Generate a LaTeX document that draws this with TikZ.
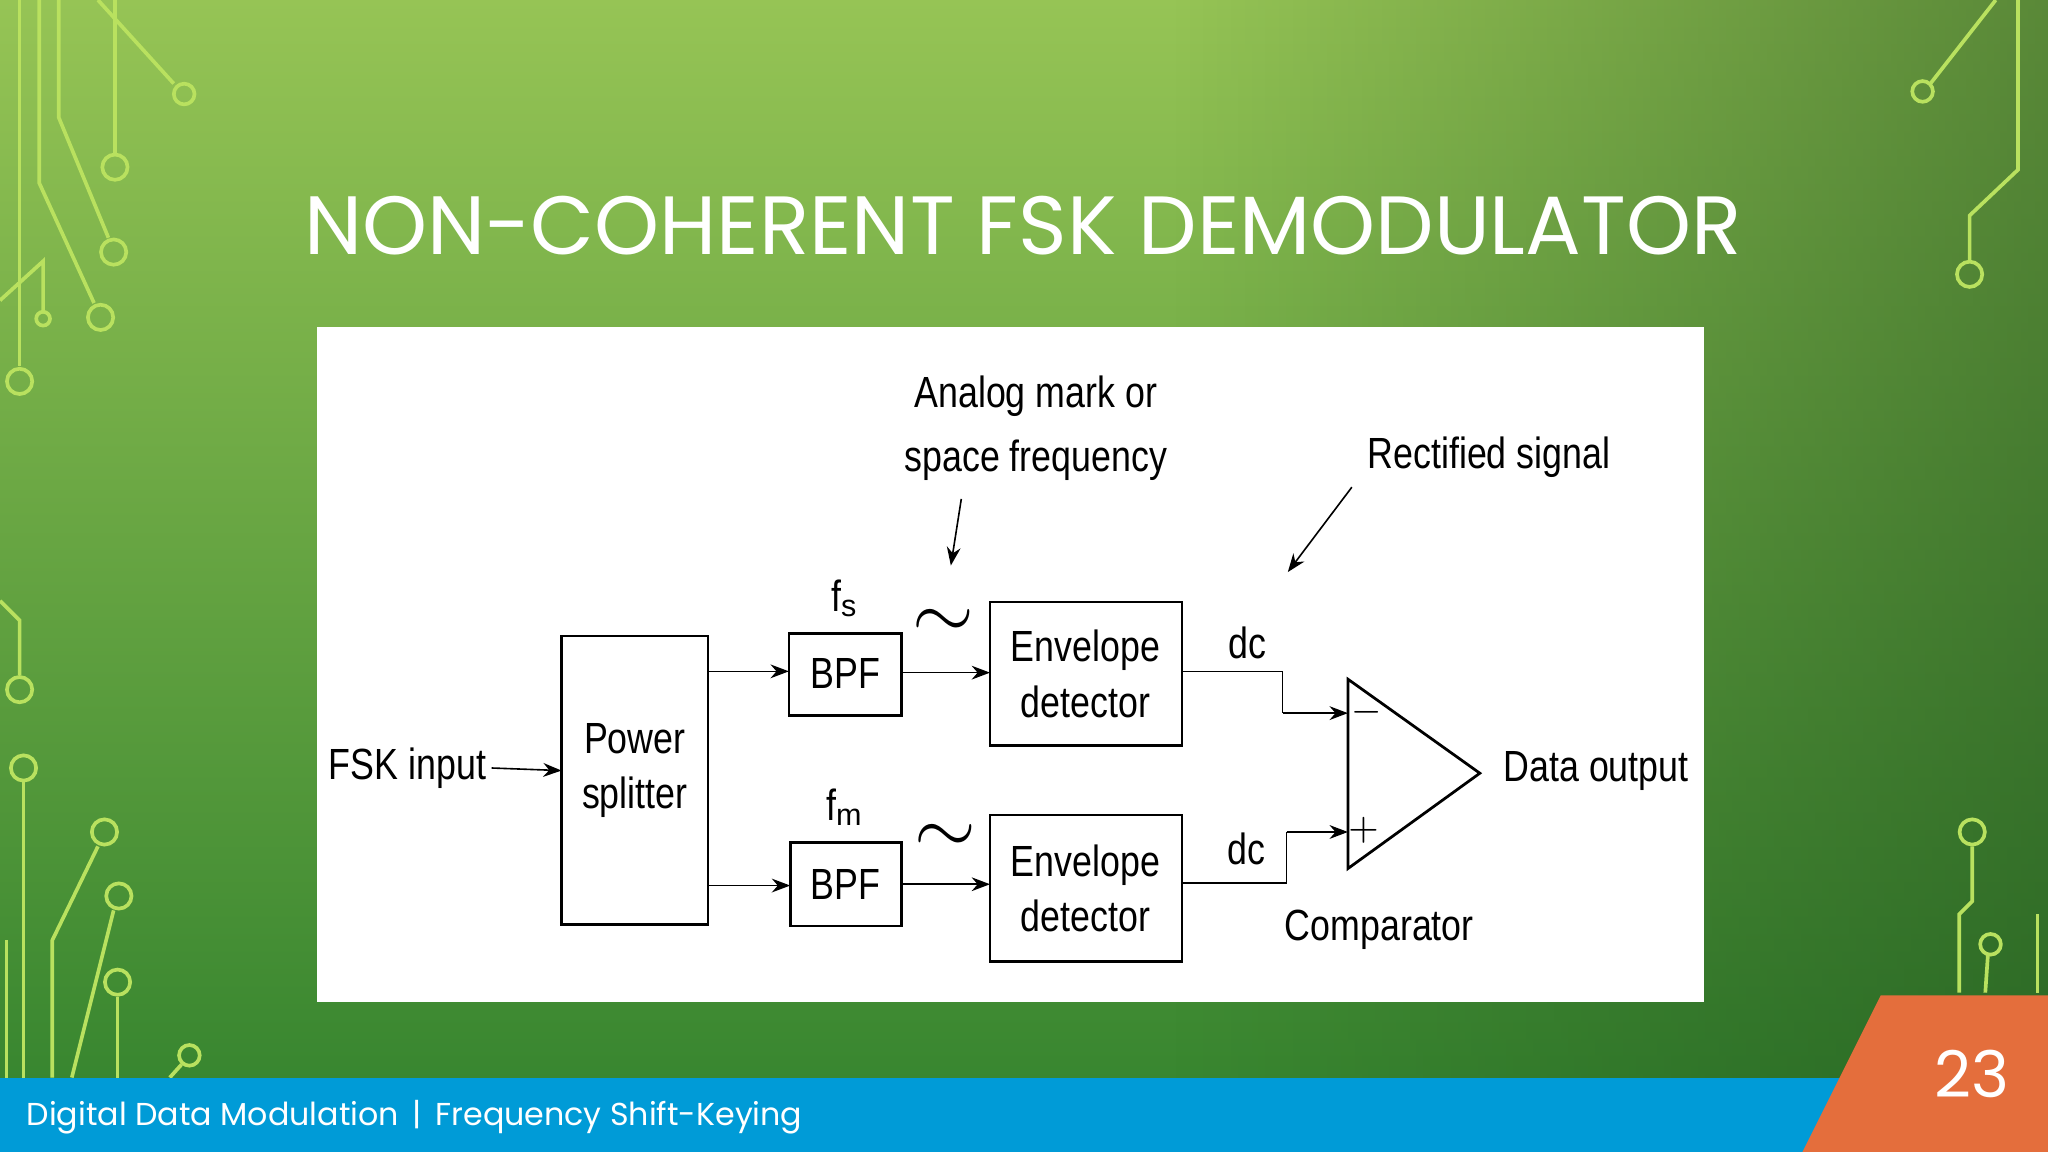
\documentclass[tikz,border=0pt]{standalone}
\usepackage{fontspec}
\setmainfont{Liberation Sans}
\newfontfamily\narrow[FakeStretch=0.82]{Liberation Sans}
\newfontfamily\gothic{Poppins}
\usetikzlibrary{arrows.meta,fadings}
\definecolor{gtop}{RGB}{150,196,85}
\definecolor{gbot}{RGB}{50,130,45}
\definecolor{trace}{RGB}{185,225,95}
\definecolor{barblue}{RGB}{0,155,215}
\definecolor{orng}{RGB}{228,110,60}
\tikzset{
 blk/.style={draw,line width=0.6pt},
 sig/.style={line width=0.35pt,-{Stealth[length=4pt,width=3pt]}},
 wire/.style={line width=0.35pt},
 lbl/.style={font=\narrow\fontsize{9.5}{11}\selectfont,inner sep=1pt},
 tr/.style={trace,line width=0.8pt},
 pad/.style={draw=trace,line width=0.8pt,circle,inner sep=0pt,minimum size=5.5pt},
}
\begin{document}
\begin{tikzpicture}[x=0.01cm,y=-0.01cm]
\useasboundingbox (0,0) rectangle (1568,882);
\shade[top color=gtop,bottom color=gbot] (0,0) rectangle (1568,882);
\fill[gbot!60!black,path fading=west,fill opacity=0.5] (900,0) rectangle (1568,882);
% circuit traces left
\draw[tr] (15,0)--(15,280); \node[pad] at (15,292){};
\draw[tr] (30,0)--(30,140)--(72,232); \node[pad] at (77,243){};
\draw[tr] (45,0)--(45,90)--(83,182); \node[pad] at (87,193){};
\draw[tr] (88,0)--(88,117); \node[pad] at (88,128){};
\draw[tr] (75,0)--(133,64); \node[pad,minimum size=4.5pt] at (141,72){};
\draw[tr] (0,230)--(33,200)--(33,239); \node[pad,minimum size=3pt] at (33,244){};
\draw[tr] (0,460)--(15,475)--(15,517); \node[pad] at (15,528){};
\draw[tr] (18,599)--(18,825); \node[pad] at (18,588){};
\draw[tr] (40,825)--(40,720)--(75,648); \node[pad] at (80,637){};
\draw[tr] (55,825)--(87,697); \node[pad] at (91,686){};
\draw[tr] (90,825)--(90,763); \node[pad] at (90,752){};
\draw[tr] (130,825)--(139,815); \node[pad,minimum size=4.5pt] at (145,808){};
\draw[tr] (5,825)--(5,720);
% right traces
\draw[tr] (1478,64)--(1528,0); \node[pad,minimum size=4.5pt] at (1472,70){};
\draw[tr] (1545,0)--(1545,130)--(1508,165)--(1508,199); \node[pad] at (1508,210){};
\draw[tr] (1500,760)--(1500,700)--(1510,690)--(1510,648); \node[pad] at (1510,637){};
\draw[tr] (1520,760)--(1522,731); \node[pad,minimum size=4.5pt] at (1524,723){};
\draw[tr] (1560,760)--(1560,700);
% title
\node[white,font=\gothic\fontsize{18}{20}\selectfont] at (783,173) {NON-COHERENT FSK DEMODULATOR};
% footer
\fill[barblue] (0,825) rectangle (1420,882);
\fill[orng] (1380,882)--(1440,762)--(1568,762)--(1568,882)--cycle;
\node[white,font=\gothic\fontsize{14}{16}\selectfont] at (1510,822) {23};
\node[white,anchor=west,font=\gothic\fontsize{6.9}{8}\selectfont] at (8,855) {Digital Data Modulation \,|\, Frequency Shift-Keying};
% white panel
\fill[white] (243,250) rectangle (1305,767);
% diagram
\draw[blk] (430,487) rectangle (542,708);
\node[lbl,align=center] (psl) at (486,590) {Power\\[1pt]splitter};
\coordinate (psin) at (430,590);
\coordinate (pso1) at (542,514);
\coordinate (pso2) at (542,678);
\draw[blk] (604,485) rectangle (690,548); \node[lbl] (b1t) at (647,516) {BPF};
\draw[blk] (605,645) rectangle (690,709); \node[lbl] (b2t) at (647,677) {BPF};
\draw[blk] (758,461) rectangle (905,571); \node[lbl,align=center] (e1) at (831,516) {Envelope\\[1pt]detector};
\draw[blk] (758,624) rectangle (905,736); \node[lbl,align=center] (e2) at (831,680) {Envelope\\[1pt]detector};
\draw[blk] (1032,520)--(1032,665)--(1133,592)--cycle;
\coordinate (cm) at (1032,546); \coordinate (cp) at (1032,637);
\node[lbl] (fsk) at (312,588) {FSK input};
\draw[sig] (fsk.east) -- (psin);
\draw[sig] (pso1) -- (604,514);
\draw[sig] (pso2) -- (605,678);
\draw[sig] (690,515) -- (758,515);
\draw[sig] (690,677) -- (758,677);
\node[lbl] (fs) at (647,458) {f$_{\mathrm s}$};
\node[lbl] (fm) at (647,618) {f$_{\mathrm m}$};
\node[font=\fontsize{16}{16}\selectfont,inner sep=0pt] (t1) at (722,478) {$\sim$};
\node[font=\fontsize{16}{16}\selectfont,inner sep=0pt] (t2) at (724,642) {$\sim$};
\draw[wire] (905,514)--(982,514)--(982,546); \draw[sig] (982,546)--(cm);
\draw[wire] (905,676)--(985,676)--(985,637); \draw[sig] (985,637)--(cp);
\node[lbl] (dc1) at (955,492) {dc};
\node[lbl] (dc2) at (954,650) {dc};
\node[font=\fontsize{8}{8}\selectfont] (mi) at (1046,545) {$-$};
\node[font=\fontsize{8}{8}\selectfont] (pl) at (1044,636) {$+$};
\node[lbl] (dout) at (1222,590) {Data output};
\node[lbl] (cmp) at (1056,712) {Comparator};
\node[lbl,align=center] (am) at (793,328) {Analog mark or\\[3pt]space frequency};
\coordinate (ama) at (736,382); \coordinate (amb) at (728,433);
\draw[sig] (ama)--(amb);
\node[lbl] (rs) at (1140,350) {Rectified signal};
\coordinate (rsa) at (1035,373); \coordinate (rsb) at (986,438);
\draw[sig] (rsa)--(rsb);
\end{tikzpicture}
\end{document}
